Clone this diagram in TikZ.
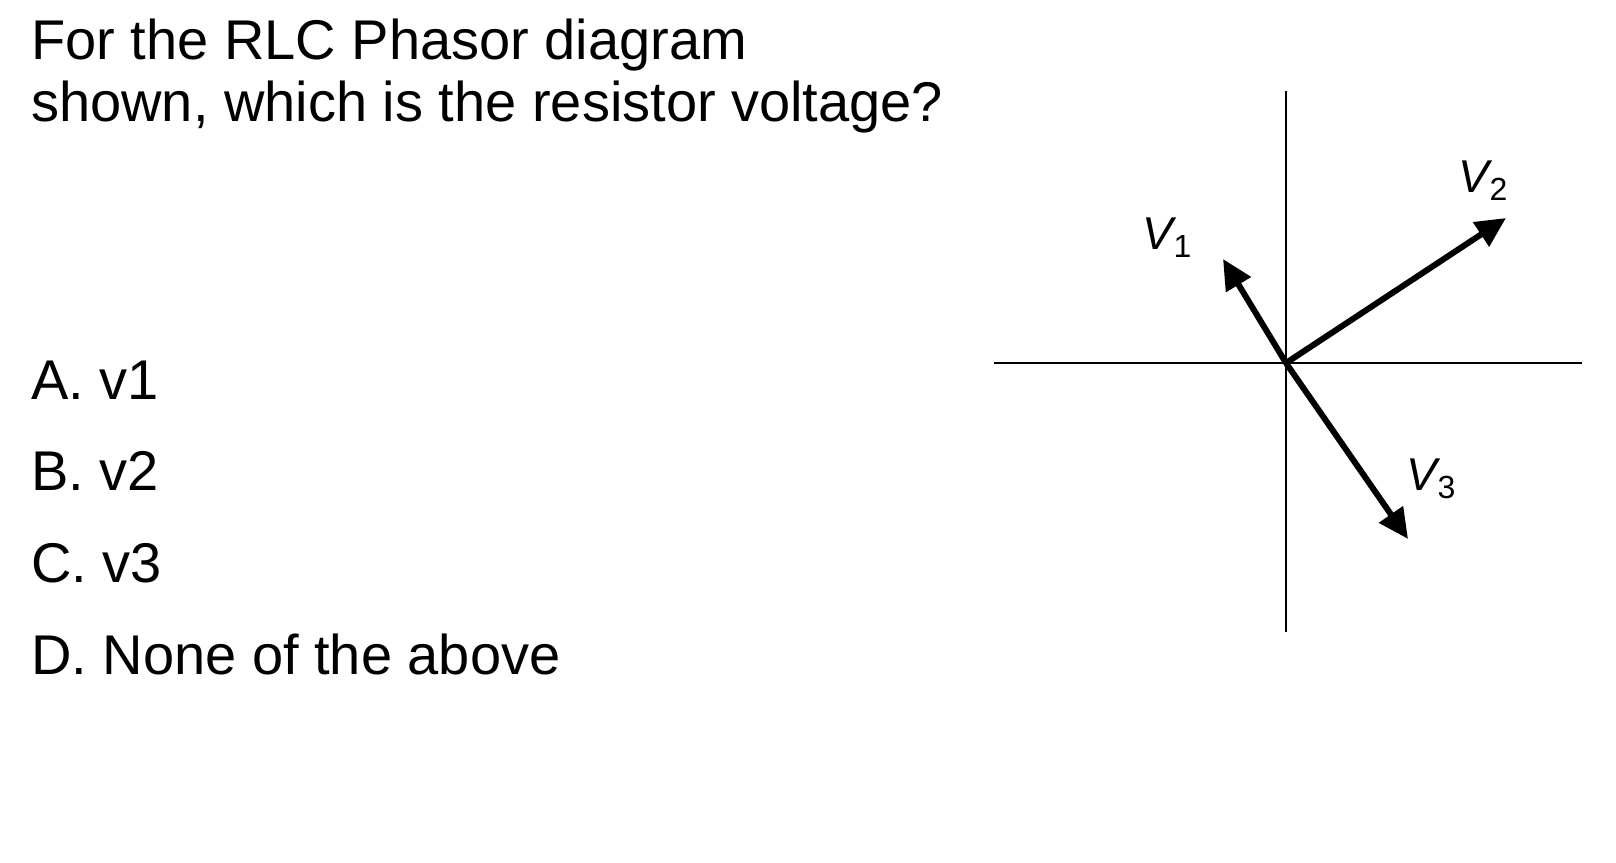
\documentclass[tikz,border=0pt]{standalone}
\usepackage{fontspec}
\setmainfont{Liberation Sans}
\usetikzlibrary{arrows.meta}
\begin{document}
\begin{tikzpicture}[x=1pt,y=-1pt,
  txt/.style={anchor=base west,inner sep=0pt,font=\fontsize{56}{56}\selectfont},
  axis/.style={line width=2pt},
  phasor/.style={line width=6pt,-{Triangle[length=30pt,width=28pt]}},
  lab/.style={inner sep=0pt,font=\fontsize{46}{46}\selectfont}]
\useasboundingbox (0,0) rectangle (1616,862);
\node[txt] (t1) at (31,59) {For the RLC Phasor diagram};
\node[txt] (t2) at (31,121) {shown, which is the resistor voltage?};
\node[txt] (a) at (31,399) {A. v1};
\node[txt] (b) at (31,490) {B. v2};
\node[txt] (c) at (31,582) {C. v3};
\node[txt] (d) at (31,674) {D. None of the above};
\coordinate (o) at (1286,363);
\coordinate (l) at (994,363);
\coordinate (r) at (1582,363);
\coordinate (u) at (1286,91);
\coordinate (dn) at (1286,632);
\draw[axis] (l) -- (r);
\draw[axis] (u) -- (dn);
\coordinate (v1) at (1223,259);
\coordinate (v2) at (1506,218);
\coordinate (v3) at (1408,539);
\draw[phasor] (o) -- (v1);
\draw[phasor] (o) -- (v2);
\draw[phasor] (o) -- (v3);
\node[lab] (l1) at (1167,238) {\textit{V}\kern-3pt\raisebox{-8pt}{\fontsize{32}{32}\selectfont 1}};
\node[lab] (l2) at (1483,181) {\textit{V}\kern-3pt\raisebox{-8pt}{\fontsize{32}{32}\selectfont 2}};
\node[lab] (l3) at (1431,479) {\textit{V}\kern-3pt\raisebox{-8pt}{\fontsize{32}{32}\selectfont 3}};
\end{tikzpicture}
\end{document}
